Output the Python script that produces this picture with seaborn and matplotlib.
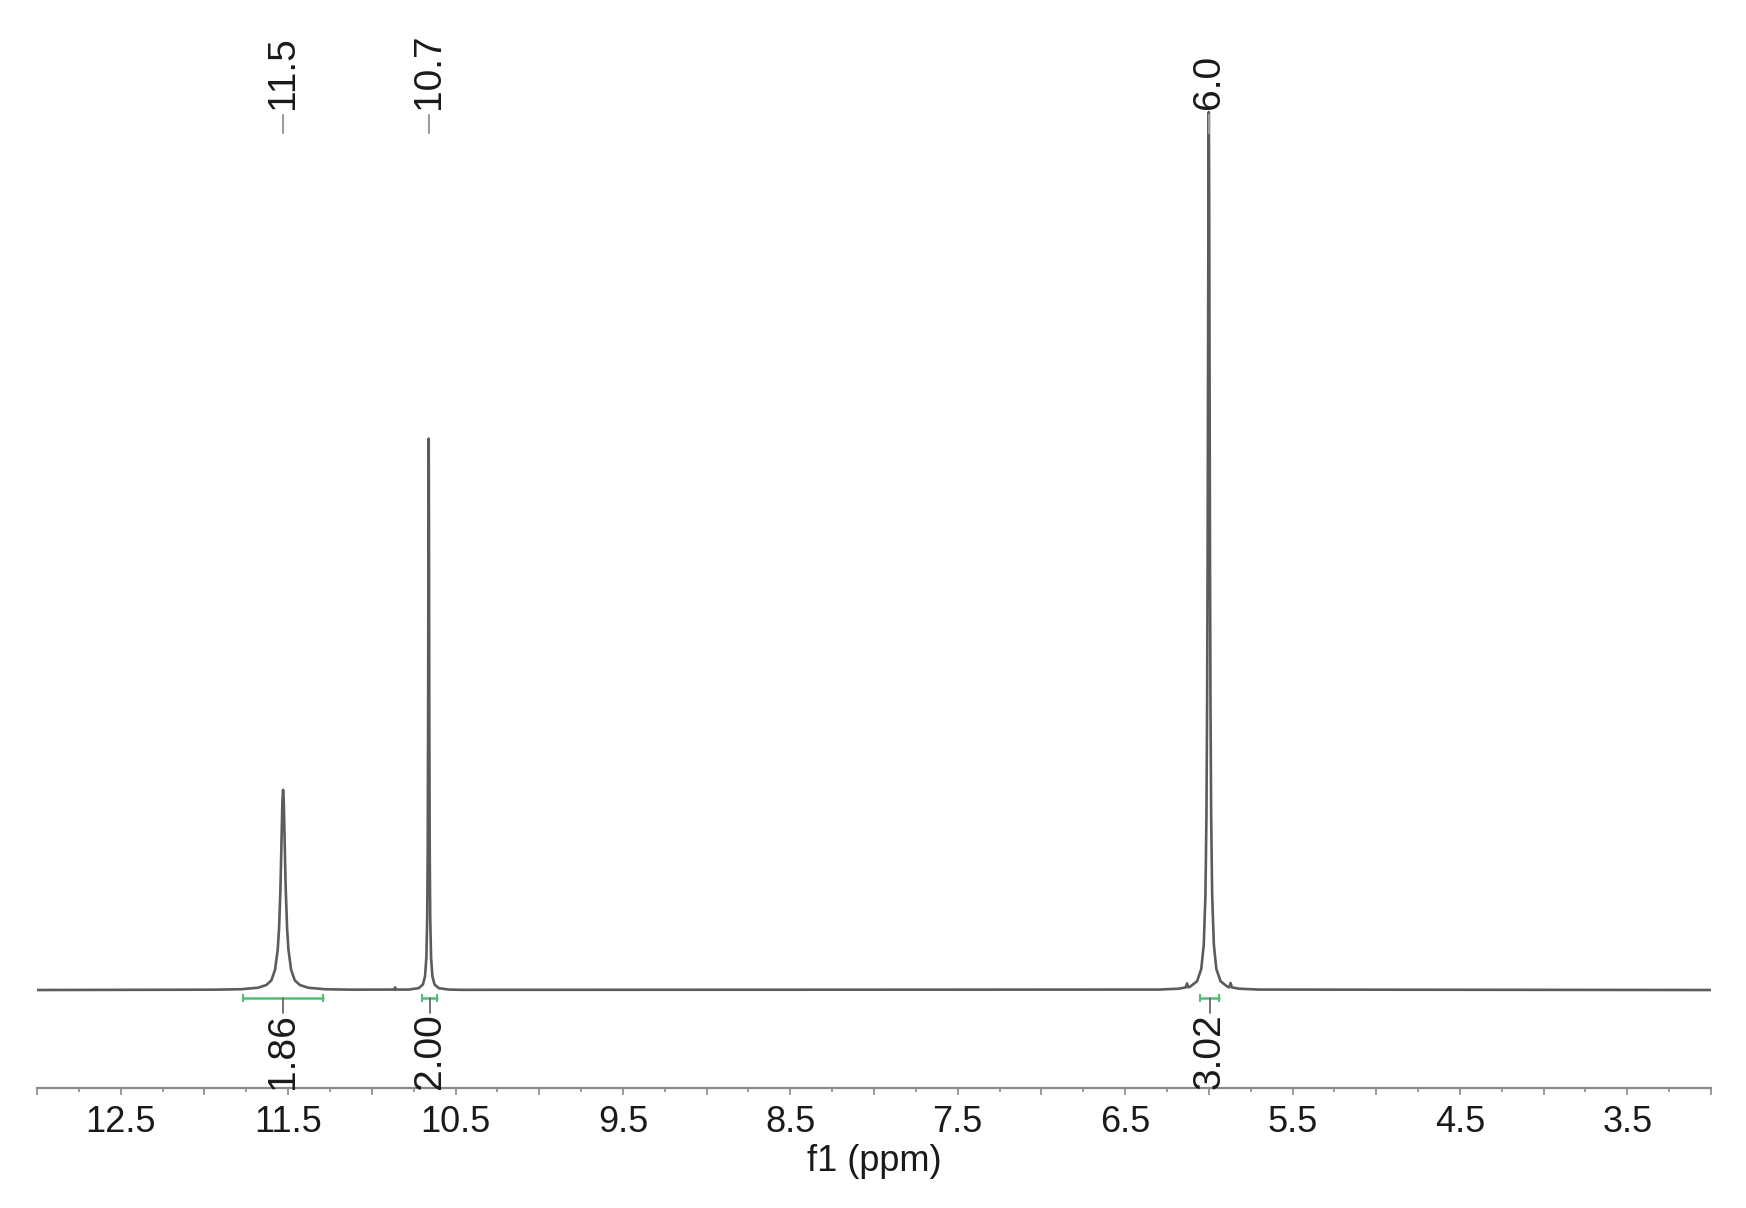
import numpy as np
import pandas as pd
import matplotlib
matplotlib.use("Agg")
import matplotlib.pyplot as plt
from matplotlib.ticker import FixedLocator, FixedFormatter
import seaborn as sns

# ---------------- data ----------------
peak_ppm = [11.53, 10.66, 6.00]
peak_labels = ["11.5", "10.7", "6.0"]

# half profiles of each peak: offset from centre (ppm) and intensity (6.0 peak = 100)
peakA_offset = [0, 0.004, 0.008, 0.012, 0.016, 0.024, 0.032, 0.048, 0.07, 0.10, 0.15, 0.25, 0.40]
peakA_int = [22.8, 21.5, 18.2, 14.6, 11.4, 7.0, 4.6, 2.3, 1.1, 0.57, 0.26, 0.09, 0.04]

peakB_offset = [0, 0.0015, 0.0035, 0.006, 0.009, 0.014, 0.022, 0.035, 0.06, 0.12, 0.2]
peakB_int = [62.8, 52.9, 31.3, 15.9, 8.2, 3.7, 1.55, 0.62, 0.21, 0.05, 0.02]

peakC_offset = [0, 0.002, 0.004, 0.007, 0.010, 0.014, 0.02, 0.03, 0.045, 0.07, 0.11, 0.18, 0.3]
peakC_int = [100, 92.5, 75.4, 50, 32.9, 20, 10.9, 5.2, 2.4, 1.0, 0.4, 0.15, 0.05]

# small baseline features
bump_ppm = [10.868, 10.86, 10.852, 6.138, 6.13, 6.122, 5.878, 5.87, 5.862]
bump_int = [0.05, 0.30, 0.05, 0.30, 0.75, 0.30, 0.30, 0.80, 0.30]

baseline_ppm = [13.0, 3.0]
baseline_int = [0.0, 0.0]

# integrals
integral_start = [11.77, 10.70, 6.05]
integral_end = [11.29, 10.61, 5.94]
integral_labels = ["1.86", "2.00", "3.02"]

# axis ticks
major_ticks = [13.0, 12.5, 12.0, 11.5, 11.0, 10.5, 10.0, 9.5, 9.0, 8.5, 8.0,
               7.5, 7.0, 6.5, 6.0, 5.5, 5.0, 4.5, 4.0, 3.5, 3.0]
tick_labels = ["", "12.5", "", "11.5", "", "10.5", "", "9.5", "", "8.5", "",
               "7.5", "", "6.5", "", "5.5", "", "4.5", "", "3.5", ""]
minor_ticks = [12.75, 12.25, 11.75, 11.25, 10.75, 10.25, 9.75, 9.25, 8.75, 8.25,
               7.75, 7.25, 6.75, 6.25, 5.75, 5.25, 4.75, 4.25, 3.75, 3.25]

# ---------------- build the spectrum table ----------------
xs, ys = list(baseline_ppm), list(baseline_int)
for c, offs, ints in [(peak_ppm[0], peakA_offset, peakA_int),
                      (peak_ppm[1], peakB_offset, peakB_int),
                      (peak_ppm[2], peakC_offset, peakC_int)]:
    for o, v in zip(offs, ints):
        xs.append(c + o); ys.append(v)
        if o != 0:
            xs.append(c - o); ys.append(v)
xs += bump_ppm
ys += bump_int
spec = pd.DataFrame({"ppm": xs, "intensity": ys}).sort_values("ppm").reset_index(drop=True)

# ---------------- style ----------------
sns.set_theme(style="white")
plt.rcParams["font.family"] = ["Liberation Sans", "DejaVu Sans"]

W, H = 1746, 1208
fig = plt.figure(figsize=(W / 100, H / 100), dpi=100)
left_px, right_px, bottom_px, top_px = 37, 1711, 1088, 20
ax = fig.add_axes([left_px / W, 1 - bottom_px / H, (right_px - left_px) / W, (bottom_px - top_px) / H])

line_col = "#5c5c5c"
sns.lineplot(data=spec, x="ppm", y="intensity", sort=False, estimator=None,
             color=line_col, linewidth=1.9, ax=ax)

ax.set_xlim(13.0, 3.0)
ax.set_ylim(-11.16, 110.48)

# spines / ticks
for s in ["left", "top", "right"]:
    ax.spines[s].set_visible(False)
ax.spines["bottom"].set_color("#8a8a8a")
ax.spines["bottom"].set_linewidth(1.6)
ax.set_yticks([])
ax.xaxis.set_major_locator(FixedLocator(major_ticks))
ax.xaxis.set_major_formatter(FixedFormatter(tick_labels))
ax.xaxis.set_minor_locator(FixedLocator(minor_ticks))
ax.tick_params(axis="x", which="major", direction="out", length=5, width=1.2,
               color="#8a8a8a", labelsize=26, labelcolor="#1a1a1a", pad=7, bottom=True)
ax.tick_params(axis="x", which="minor", direction="out", length=2.8, width=1.2,
               color="#8a8a8a", bottom=True)
ax.set_xlabel("f1 (ppm)", fontsize=26, color="#1a1a1a", labelpad=3)
ax.set_ylabel("")

# peak labels on top
for p, lab in zip(peak_ppm, peak_labels):
    ax.text(p, 100.3, lab, rotation=90, ha="center", va="bottom",
            fontsize=28, color="#1a1a1a", clip_on=False, zorder=5)
    ax.plot([p, p], [99.7, 97.6], color="#9a9a9a", linewidth=1.5, zorder=4)

# integrals
green = "#4fbf72"
for s, e, lab in zip(integral_start, integral_end, integral_labels):
    ax.plot([s, e], [-0.91, -0.91], color=green, linewidth=1.8,
            marker="|", markersize=6, markeredgewidth=1.5, zorder=4)
    mid = (s + e) / 2
    ax.plot([mid, mid], [-0.91, -2.62], color="#6a6a6a", linewidth=1.3, zorder=4)
    ax.text(mid, -2.62, lab, rotation=90, ha="center", va="top",
            fontsize=28, color="#1a1a1a", clip_on=False, zorder=6)

fig.savefig("out.png", dpi=100, facecolor="white")
